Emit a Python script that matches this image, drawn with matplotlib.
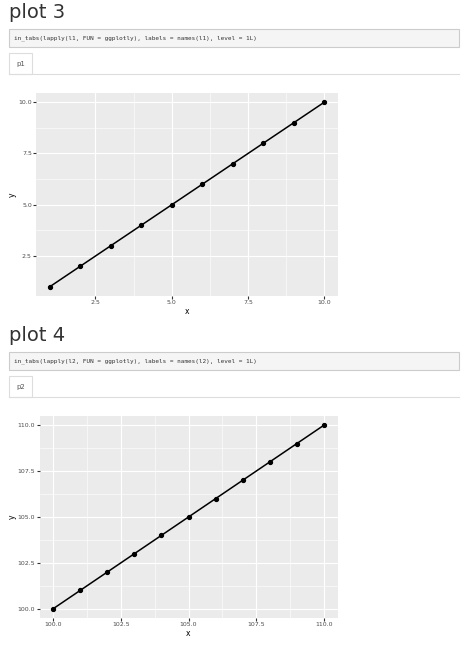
import matplotlib
matplotlib.use("Agg")
import matplotlib.pyplot as plt
from matplotlib.patches import Rectangle

W, H = 474, 648

x1 = [1, 2, 3, 4, 5, 6, 7, 8, 9, 10]
y1 = [1, 2, 3, 4, 5, 6, 7, 8, 9, 10]
x2 = [100, 101, 102, 103, 104, 105, 106, 107, 108, 109, 110]
y2 = [100, 101, 102, 103, 104, 105, 106, 107, 108, 109, 110]
ticks1 = [2.5, 5.0, 7.5, 10.0]
ticks2 = [100.0, 102.5, 105.0, 107.5, 110.0]

fig = plt.figure(figsize=(W / 100, H / 100), dpi=100)


def fy(py):
    return 1 - py / H


def box(x0, y0, x1_, y1_, fc, ec):
    fig.patches.append(Rectangle((x0 / W, fy(y1_)), (x1_ - x0) / W, (y1_ - y0) / H,
                                 transform=fig.transFigure, fc=fc, ec=ec, lw=0.8))


def section(top, title, code, tab):
    fig.text(9 / W, fy(top + 18), title, fontsize=14, color="#333333", va="baseline")
    box(9, top + 29, 459, top + 47, "#f5f5f5", "#cccccc")
    fig.text(14 / W, fy(top + 38), code, fontsize=4.3, family="DejaVu Sans Mono",
             color="#333333", va="center")
    fig.lines.append(plt.Line2D([9 / W, 459 / W], [fy(top + 74)] * 2,
                                transform=fig.transFigure, color="#dddddd", lw=0.8))
    box(9, top + 53, 32, top + 74, "white", "#dddddd")
    fig.text(20.5 / W, fy(top + 64), tab, fontsize=5, color="#555555", ha="center", va="center")


def panel(left, top, right, bottom, xs, ys, xlim, ylim, ticks):
    ax = fig.add_axes([left / W, fy(bottom), (right - left) / W, (bottom - top) / H])
    ax.set_facecolor("#ebebeb")
    for s in ax.spines.values():
        s.set_visible(False)
    ax.plot(xs, ys, color="black", lw=1.1, marker="o", ms=2.8)
    ax.set_xlim(*xlim)
    ax.set_ylim(*ylim)
    ax.set_xticks(ticks)
    ax.set_yticks(ticks)
    ax.set_xticks([(a + b) / 2 for a, b in zip(ticks[:-1], ticks[1:])], minor=True)
    ax.set_yticks([(a + b) / 2 for a, b in zip(ticks[:-1], ticks[1:])], minor=True)
    ax.grid(True, which="major", color="white", lw=0.8)
    ax.grid(True, which="minor", color="white", lw=0.4)
    ax.tick_params(which="major", labelsize=4.5, length=2, color="#333333", labelcolor="#4d4d4d", pad=1)
    ax.tick_params(which="minor", length=0)
    ax.set_axisbelow(True)
    ax.set_xlabel("x", fontsize=5.5, labelpad=1)
    ax.set_ylabel("y", fontsize=5.5, labelpad=1)
    return ax


section(0, "plot 3", "in_tabs(lapply(l1, FUN = ggplotly), labels = names(l1), level = 1L)", "p1")
ax1 = panel(36, 93, 338, 296, x1, y1, (0.55, 10.45), (0.55, 10.45), ticks1)
ax1.set_xticks([2.5, 5.0, 7.5, 10.0])

section(323, "plot 4", "in_tabs(lapply(l2, FUN = ggplotly), labels = names(l2), level = 1L)", "p2")
panel(39.5, 416, 337.5, 618, x2, y2, (99.5, 110.5), (99.5, 110.5), ticks2)

fig.savefig("out.png", dpi=100)
